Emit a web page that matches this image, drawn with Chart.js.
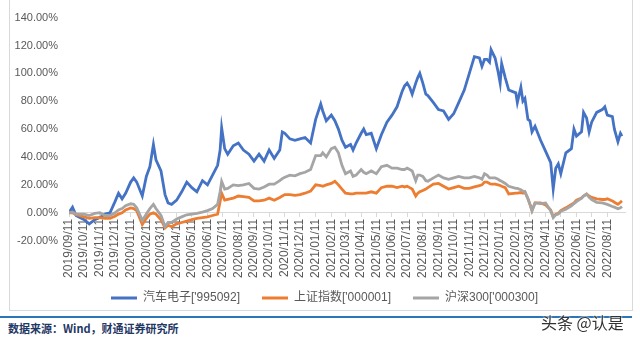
<!DOCTYPE html>
<html>
<head>
<meta charset="utf-8">
<script src="https://cdn.jsdelivr.net/npm/chart.js@4.4.1/dist/chart.umd.min.js"></script>
<style>
  html, body { margin: 0; padding: 0; background: #fff; }
  body { width: 640px; height: 341px; position: relative; overflow: hidden; }
  #frame { position: absolute; left: 9px; top: -1px; width: 624px; height: 312px; border: 1px solid #d9d9d9; box-sizing: border-box; }
  #wrap { position: absolute; left: 0; top: 0; width: 640px; height: 314px; }
  #rule { position: absolute; left: 0; top: 316px; width: 632px; height: 2px; background: #2e75b6; }
  #src { position: absolute; left: 8px; top: 320px; font: bold 11px "Noto Sans CJK SC", sans-serif; color: #1f3864; }
  #mark { position: absolute; left: 541px; top: 310px; font: 16px "Noto Sans CJK SC", sans-serif; color: #333;
          text-shadow: 0 0 2px #fff, 0 0 2px #fff; }
</style>
</head>
<body>
<div id="frame"></div>
<div id="wrap"><canvas id="chart" width="640" height="314"></canvas></div>
<div id="rule"></div>
<div id="src">数据来源：Wind，财通证券研究所</div>
<div id="mark">头条 @认是</div>
<script>
// cumulative return (%) since 2019/09/11
var dates = [
  '2019/09/11','2019/09/18','2019/09/25','2019/10/11','2019/10/21','2019/11/01','2019/11/11','2019/11/21',
  '2019/12/01','2019/12/11','2019/12/18','2019/12/25',
  '2020/01/01','2020/01/11','2020/01/17','2020/01/23','2020/02/03','2020/02/11','2020/02/18','2020/02/25',
  '2020/03/01','2020/03/11','2020/03/19','2020/03/25','2020/04/01','2020/04/11','2020/04/21','2020/05/01',
  '2020/05/11','2020/05/21','2020/06/01','2020/06/11','2020/06/21','2020/07/01','2020/07/06','2020/07/09',
  '2020/07/15','2020/07/21','2020/08/01','2020/08/11','2020/08/21','2020/09/01','2020/09/11','2020/09/21',
  '2020/10/01','2020/10/11','2020/10/21','2020/11/01','2020/11/06','2020/11/11','2020/11/21','2020/12/01',
  '2020/12/11','2020/12/21',
  '2021/01/01','2021/01/11','2021/01/21','2021/01/25','2021/02/01','2021/02/11','2021/02/18','2021/02/25',
  '2021/03/04','2021/03/11','2021/03/21','2021/03/26','2021/04/01','2021/04/11','2021/04/16','2021/04/21',
  '2021/05/01','2021/05/11','2021/05/21','2021/06/01','2021/06/11','2021/06/21','2021/07/01','2021/07/06',
  '2021/07/11','2021/07/16','2021/07/21','2021/07/28','2021/08/01','2021/08/05','2021/08/11','2021/08/17',
  '2021/08/21','2021/09/01','2021/09/11','2021/09/21','2021/10/01','2021/10/11','2021/10/21','2021/11/01',
  '2021/11/11','2021/11/21','2021/12/01','2021/12/06','2021/12/11','2021/12/16','2021/12/21','2021/12/24',
  '2022/01/01','2022/01/07','2022/01/11','2022/01/14','2022/01/21','2022/01/28','2022/02/11','2022/02/14',
  '2022/02/21','2022/02/25','2022/03/01','2022/03/07','2022/03/11','2022/03/15','2022/03/21','2022/04/01',
  '2022/04/11','2022/04/21','2022/04/26','2022/05/01','2022/05/06','2022/05/11','2022/05/21','2022/06/01',
  '2022/06/06','2022/06/11','2022/06/21','2022/06/25','2022/07/01','2022/07/06','2022/07/11','2022/07/21',
  '2022/08/01','2022/08/06','2022/08/11','2022/08/21','2022/08/25','2022/09/01','2022/09/06','2022/09/09'
];

var autoElec = [
  0, 4, -2, -5, -8, -5, -3.5, -1,
  0, 8, 14, 10,
  14, 22, 25, 22, 12, 26, 33, 49,
  38, 30, 13, 7, 6, 9, 15, 22,
  18, 15, 23, 20, 27, 34, 45, 61,
  46, 42, 48, 50, 45, 42, 37, 42,
  37, 45, 39, 45, 58, 57, 53, 52,
  53, 54,
  50, 67, 78, 73, 66, 70, 66, 60,
  52, 47, 49, 45, 50, 57, 60, 56,
  57, 46, 56, 65, 70, 76, 87, 91,
  93, 90, 85, 93, 97, 100, 93, 85,
  84, 79, 74, 73, 67, 71, 79, 88,
  100, 112, 111, 105, 110, 110, 108, 117,
  111, 101, 93, 107, 97, 88, 86, 79,
  90, 80, 82, 67, 66, 58, 62, 52,
  44, 36, 17, 32, 35, 28, 43, 46,
  60, 55, 58, 72, 68, 58, 65, 72,
  74, 76, 70, 69, 60, 51, 57, 55
];

var shIndex = [
  0, 0, -1.5, -3, -4, -3.5, -3.5, -4,
  -4, -2.5, -1, 0,
  2, 3.5, 3, 1.5, -8.5, -4, -1, 0,
  -1, -5, -11, -9, -10, -8, -7, -6,
  -5, -4, -3.5, -3, -2, -1, 8, 14,
  9, 9.5, 10.5, 12, 11.5, 11, 8.5, 8.5,
  9, 10.5, 9, 11, 12, 13, 13, 12.5,
  13, 14,
  15.5, 20, 19.5, 19, 20, 21, 22.5, 20,
  17, 14, 13.5, 13.5, 14, 14, 14, 14,
  15, 14, 18, 19, 19, 18, 19, 18.5,
  19, 18, 17, 12, 14, 15, 16, 17,
  18, 20.5, 21, 19, 17, 18, 19, 17.5,
  17.5, 18.5, 19.5, 20, 22, 22, 21, 20.5,
  20.5, 20, 19.5, 19, 18, 13.5, 14, 14,
  14.5, 14, 15, 10, 6, 1.5, 7, 7,
  5.5, 2, -3, -1, -0.5, 1.5, 3.5, 6,
  7, 9, 10.5, 12, 13.4, 12, 11, 10,
  9.5, 9.5, 10, 8.5, 7.5, 6, 7.5, 8.5
];

var hs300 = [
  0, 0.5, -1, -1, -2, -0.5, 0, -2,
  -2, 0, 2, 3,
  5, 6.4, 6, 3.5, -5.5, -1, 3, 6,
  3, -2, -10, -7, -7, -4.5, -3, -1.5,
  -1, -0.5, 0.5, 1.5, 3, 6, 15, 22.5,
  17, 17.5, 20, 19.5, 20, 21, 17.5, 17,
  18.5, 20.5, 20.5, 23, 24.5, 25.5, 27, 26.5,
  28, 29,
  31, 41, 41, 43, 40, 46, 47, 43,
  34, 28, 30, 26, 27, 31, 29, 28,
  30, 28, 33, 34, 32, 32, 31, 31,
  32, 31, 30, 23, 27, 27, 26, 23,
  22.6, 25, 27, 25, 24, 25, 26, 25,
  25, 26, 25, 24, 28, 27, 25, 25,
  25, 24, 23, 22.6, 21, 19, 17.5, 17.5,
  16.5, 15.5, 15, 10, 6, 1.4, 7, 6.5,
  7, 1.4, -3.5, -1.5, -1, 1, 2.5, 5,
  6.5, 8, 10.5, 12, 13.4, 11, 9.5, 7.5,
  7, 6.5, 6, 4.5, 4, 2.8, 3.5, 4.5
];

var tickDates = [
  '2019/09/11','2019/10/11','2019/11/11','2019/12/11','2020/01/11','2020/02/11','2020/03/11','2020/04/11',
  '2020/05/11','2020/06/11','2020/07/11','2020/08/11','2020/09/11','2020/10/11','2020/11/11','2020/12/11',
  '2021/01/11','2021/02/11','2021/03/11','2021/04/11','2021/05/11','2021/06/11','2021/07/11','2021/08/11',
  '2021/09/11','2021/10/11','2021/11/11','2021/12/11','2022/01/11','2022/02/11','2022/03/11','2022/04/11',
  '2022/05/11','2022/06/11','2022/07/11','2022/08/11'
];

var seriesNames = ["汽车电子['995092]", "上证指数['000001]", "沪深300['000300]"];
var seriesColors = ['#4472c4', '#ed7d31', '#a5a5a5'];

var ORIGIN = Date.UTC(2019, 8, 11);
function dayOf(s) {
  var p = s.split('/');
  return (Date.UTC(+p[0], +p[1] - 1, +p[2]) - ORIGIN) / 864e5;
}
function points(vals) {
  return vals.map(function (v, i) { return { x: dayOf(dates[i]), y: v }; });
}

var tickText = {};
tickDates.forEach(function (d) { tickText[dayOf(d)] = d; });

var FONT = '"Liberation Sans", "Noto Sans CJK SC", sans-serif';
var TXT = '#595959';

function series(i, vals) {
  return {
    label: seriesNames[i], data: points(vals), yAxisID: 'y',
    borderColor: seriesColors[i], backgroundColor: seriesColors[i],
    borderWidth: 2.8, pointRadius: 0, tension: 0, order: 2 - i
  };
}

new Chart(document.getElementById('chart'), {
  type: 'line',
  data: { datasets: [series(0, autoElec), series(1, shIndex), series(2, hs300)] },
  options: {
    responsive: false, animation: false, parsing: false,
    layout: { padding: { top: 14, right: 0, bottom: 0, left: 9 } },
    plugins: {
      tooltip: { enabled: false },
      legend: {
        position: 'bottom', align: 'center',
        title: { display: true, text: ' ', padding: { top: 15, bottom: 0 }, font: { size: 12 } },
        labels: {
          boxWidth: 26, boxHeight: 3, padding: 22, color: TXT,
          font: { family: FONT, size: 12 },
          generateLabels: function (chart) {
            return chart.data.datasets.map(function (ds, i) {
              return { text: ds.label, fillStyle: ds.borderColor, strokeStyle: ds.borderColor,
                       lineWidth: 0, fontColor: TXT, datasetIndex: i, hidden: false };
            });
          }
        }
      }
    },
    scales: {
      x: {
        type: 'linear', position: { y: 0 }, min: 0, max: 1100,
        afterBuildTicks: function (s) {
          s.ticks = tickDates.map(function (d) { return { value: dayOf(d) }; });
        },
        grid: { drawOnChartArea: false, drawTicks: true, tickLength: 4, color: '#d9d9d9' },
        border: { display: true, color: '#d9d9d9', width: 1 },
        ticks: {
          autoSkip: false, maxRotation: 90, minRotation: 90, padding: 2,
          color: TXT, font: { family: FONT, size: 12 },
          callback: function (v) { return tickText[v] || ''; }
        }
      },
      y: {
        min: -20, max: 140,
        afterFit: function (s) { s.width = 60; },
        grid: { display: false, drawTicks: false },
        border: { display: false },
        ticks: {
          stepSize: 20, padding: 11, color: TXT, font: { family: FONT, size: 11 },
          callback: function (v) { return v.toFixed(2) + '%'; }
        }
      },
      // empty strip on the right so the plot stops short of the frame
      yRight: {
        position: 'right', display: true, min: -20, max: 140,
        afterFit: function (s) { s.width = 15; },
        grid: { display: false, drawTicks: false },
        border: { display: false },
        ticks: { display: false }
      }
    }
  }
});
</script>
</body>
</html>
